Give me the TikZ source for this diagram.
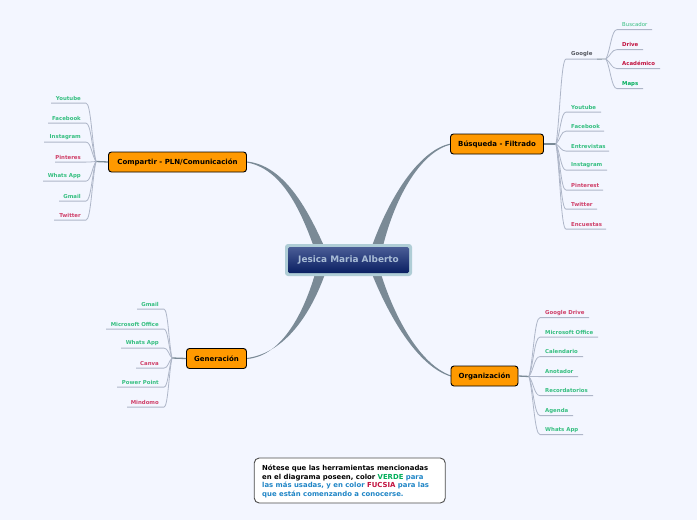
\documentclass[tikz,border=0pt]{standalone}
\usepackage{fontspec}
\setmainfont{DejaVu Sans}
\usetikzlibrary{calc}
\definecolor{bgc}{HTML}{F3F6FF}
\definecolor{branchc}{HTML}{7A8A96}
\definecolor{twig}{HTML}{AEB6C8}
\definecolor{lgreen}{HTML}{35BF80}
\definecolor{lpink}{HTML}{CF3F68}
\definecolor{sgreen}{HTML}{00AE5A}
\definecolor{spink}{HTML}{C2123F}
\definecolor{lgrey}{HTML}{555860}
\definecolor{noteblue}{HTML}{1F85C6}
\definecolor{roottop}{HTML}{4A5D96}
\definecolor{rootbot}{HTML}{0A1F62}
\definecolor{rootring}{HTML}{AFCDD6}
\definecolor{rootc}{HTML}{A9BDD6}
\definecolor{topicc}{HTML}{FF9900}
\tikzset{
  topicbox/.style={draw=black,line width=0.9pt,rounded corners=3pt,fill=topicc,font=\bfseries\fontsize{7}{8}\selectfont,text=black,inner sep=0pt},
  leaftext/.style={font=\bfseries\fontsize{5.4}{6}\selectfont,inner sep=0pt},
  twigline/.style={draw=twig,line width=0.8pt},
  hubline/.style={draw=branchc,line width=1.3pt},
  taper/.style={fill=branchc,draw=none}
}
% name, text, colour, anchor, text x, text y, line far x, line near x, hub
\newcommand{\twigleaf}[9]{%
  \node[leaftext,text=#3,anchor=#4] (#1) at (#5,#6+.7) {#2};
  \coordinate (#1s) at (#8,#6+5.6);
  \coordinate (#1e) at (#7,#6+5.6);
  \draw[twigline] let \p1=(#9),\p2=(#1s) in (#9)
    .. controls (\x1+.4*\x2-.4*\x1,\y1+.3*\y2-.3*\y1) and (\x1+.5*\x2-.5*\x1,\y2) .. (#1s) -- (#1e);
}
\begin{document}
\begin{tikzpicture}[x=1pt,y=-1pt]
\useasboundingbox (0,0) rectangle (697,520);
\fill[bgc] (0,0) rectangle (697,520);

% tapered main branches
\coordinate (ra1) at (372,246); \coordinate (ra2) at (383,246);
\coordinate (rb1) at (372,274); \coordinate (rb2) at (381,274);
\coordinate (rc1) at (313.5,246); \coordinate (rc2) at (324,246);
\coordinate (rd1) at (315,274); \coordinate (rd2) at (325,274);
\coordinate (ta) at (451,144);
\coordinate (tb) at (451,376);
\coordinate (tc) at (247,162);
\coordinate (td) at (247,358.5);
\fill[taper] (ra1) .. controls (391.5,192) and (421.5,149) .. ($(ta)+(0,-.5)$) -- ($(ta)+(0,.5)$) .. controls (423,151) and (396.5,192) .. (ra2) -- cycle;
\fill[taper] (rb1) .. controls (390.5,320) and (419,367) .. ($(tb)+(0,.5)$) -- ($(tb)+(0,-.5)$) .. controls (421,365) and (395.5,320) .. (rb2) -- cycle;
\fill[taper] (rc2) .. controls (306.5,207) and (283.5,165.5) .. ($(tc)+(0,-.5)$) -- ($(tc)+(0,.5)$) .. controls (280.5,168.5) and (299.5,207) .. (rc1) -- cycle;
\fill[taper] (rd2) .. controls (308.5,320) and (281.5,353.5) .. ($(td)+(0,-.5)$) -- ($(td)+(0,.5)$) .. controls (278.5,356.5) and (301.5,320) .. (rd1) -- cycle;

% root
\node[fill=rootring,rounded corners=3pt,minimum width=127pt,minimum height=32pt,inner sep=0pt] (rootouter) at (348.5,260) {};
\node[rounded corners=1.5pt,top color=roottop,bottom color=rootbot,minimum width=121pt,minimum height=26pt,inner sep=0pt,font=\bfseries\fontsize{8.9}{10}\selectfont,text=rootc] (root) at (348.5,260) {\raisebox{-1.8pt}{Jesica Maria Alberto}};

% main topics
\node[topicbox,minimum width=93pt,minimum height=20pt] (busq) at (497,144) {Búsqueda - Filtrado};
\node[topicbox,minimum width=138pt,minimum height=20pt] (comp) at (177.5,162) {Compartir - PLN/Comunicación};
\node[topicbox,minimum width=60pt,minimum height=20pt] (gene) at (216.5,358.5) {Generación};
\node[topicbox,minimum width=67pt,minimum height=20pt] (orga) at (484.5,376) {Organización};

% hubs
\coordinate (hubB) at (556,144);
\coordinate (hubG) at (606,59);
\coordinate (hubC) at (96,161.5);
\coordinate (hubD) at (172,358);
\coordinate (hubO) at (529,376.5);

\draw[hubline] (busq.east) -- (hubB);
\draw[hubline] (comp.west) -- (hubC);
\draw[hubline] (gene.west) -- (hubD);
\draw[hubline] (orga.east) -- (hubO);

% Busqueda
\twigleaf{bgo}{Google}{lgrey}{west}{571}{53.5}{597}{566}{hubB}
\draw[hubline,line width=.9pt] (bgoe) -- (hubG);
\twigleaf{byt}{Youtube}{lgreen}{west}{571}{106.5}{601}{566}{hubB}
\twigleaf{bfb}{Facebook}{lgreen}{west}{571}{125.5}{604}{566}{hubB}
\twigleaf{ben}{Entrevistas}{lgreen}{west}{571}{145.5}{609}{566}{hubB}
\twigleaf{bin}{Instagram}{lgreen}{west}{571}{164.5}{607}{566}{hubB}
\twigleaf{bpi}{Pinterest}{lpink}{west}{571}{184.5}{603}{566}{hubB}
\twigleaf{btw}{Twitter}{lpink}{west}{571}{203.5}{597}{566}{hubB}
\twigleaf{bes}{Encuestas}{lpink}{west}{571}{223.5}{606}{566}{hubB}
% Google children
\twigleaf{gbu}{\mdseries Buscador}{lgreen}{west}{622}{24}{652}{617}{hubG}
\twigleaf{gdr}{Drive}{spink}{west}{622}{44}{643}{617}{hubG}
\twigleaf{gac}{Académico}{spink}{west}{622}{63}{660}{617}{hubG}
\twigleaf{gma}{Maps}{sgreen}{west}{622}{83}{643}{617}{hubG}

% Compartir
\twigleaf{cyt}{Youtube}{lgreen}{east}{81}{97.5}{51}{86}{hubC}
\twigleaf{cfb}{Facebook}{lgreen}{east}{81}{117.5}{48}{86}{hubC}
\twigleaf{cin}{Instagram}{lgreen}{east}{81}{136.5}{44}{86}{hubC}
\twigleaf{cpi}{Pinteres}{lpink}{east}{81}{156.5}{55}{86}{hubC}
\twigleaf{cwa}{Whats App}{lgreen}{east}{81}{175.5}{43}{86}{hubC}
\twigleaf{cgm}{Gmail}{lgreen}{east}{81}{195.5}{59}{86}{hubC}
\twigleaf{ctw}{Twitter}{lpink}{east}{81}{214.5}{54}{86}{hubC}

% Generacion
\twigleaf{dgm}{Gmail}{lgreen}{east}{159}{303.5}{137}{164}{hubD}
\twigleaf{dmo}{Microsoft Office}{lgreen}{east}{159}{323.5}{106}{164}{hubD}
\twigleaf{dwa}{Whats App}{lgreen}{east}{159}{342.5}{121}{164}{hubD}
\twigleaf{dca}{Canva}{lpink}{east}{159}{362.5}{136}{164}{hubD}
\twigleaf{dpp}{Power Point}{lgreen}{east}{159}{381.5}{117}{164}{hubD}
\twigleaf{dmi}{Mindomo}{lpink}{east}{159}{401.5}{127}{164}{hubD}

% Organizacion
\twigleaf{ogd}{Google Drive}{lpink}{west}{545}{312}{589}{540}{hubO}
\twigleaf{omo}{Microsoft Office}{lgreen}{west}{545}{331.5}{598}{540}{hubO}
\twigleaf{oca}{Calendario}{lgreen}{west}{545}{351}{583}{540}{hubO}
\twigleaf{oan}{Anotador}{lgreen}{west}{545}{371}{578}{540}{hubO}
\twigleaf{ore}{Recordatorios}{lgreen}{west}{545}{390}{593}{540}{hubO}
\twigleaf{oag}{Agenda}{lgreen}{west}{545}{410}{573}{540}{hubO}
\twigleaf{owa}{Whats App}{lgreen}{west}{545}{429}{583}{540}{hubO}

% note
\node[draw=black!70,line width=.9pt,fill=white,rounded corners=5pt,minimum width=191pt,minimum height=45pt,inner sep=0pt] (notebox) at (349.75,480.5) {};
\node[anchor=west,inner sep=0pt,font=\bfseries\fontsize{6.9}{8.9}\selectfont,align=left] (notetext) at (262,481.5) {Nótese que las herramientas mencionadas\\en el diagrama poseen, color \textcolor{sgreen}{VERDE} \textcolor{noteblue}{para}\\\textcolor{noteblue}{las más usadas, y en color} \textcolor{spink}{FUCSIA} \textcolor{noteblue}{para las}\\\textcolor{noteblue}{que están comenzando a conocerse.}};
\end{tikzpicture}
\end{document}
